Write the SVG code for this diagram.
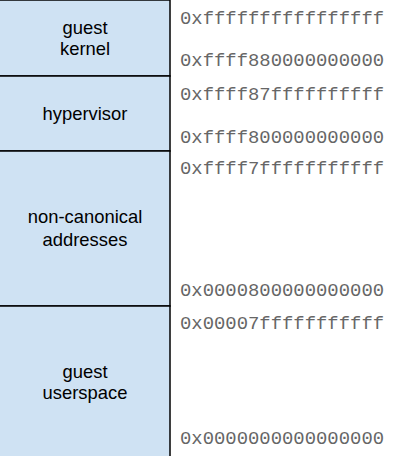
<svg xmlns="http://www.w3.org/2000/svg" width="406" height="456" viewBox="0 0 406 456">
<style>
.box{fill:#cfe2f3;stroke:#000;stroke-width:1.5}
.lbl{font-family:"Liberation Sans",Arial,sans-serif;font-size:18.4px;fill:#000;text-anchor:middle}
.addr{font-family:"Liberation Mono","Courier New",monospace;font-size:18.9px;fill:#666}
</style>
<rect width="406" height="456" fill="#fff"/>
<g id="guest-kernel"><rect class="box" x="-2" y="0" width="172" height="76"/><text class="lbl" x="85" y="34">guest</text><text class="lbl" x="85" y="55">kernel</text></g>
<g id="hypervisor"><rect class="box" x="-2" y="76" width="172" height="75"/><text class="lbl" x="85" y="120">hypervisor</text></g>
<g id="non-canonical"><rect class="box" x="-2" y="151" width="172" height="155"/><text class="lbl" x="85" y="223">non-canonical</text><text class="lbl" x="85" y="246">addresses</text></g>
<g id="guest-userspace"><rect class="box" x="-2" y="306" width="172" height="155"/><text class="lbl" x="85" y="378">guest</text><text class="lbl" x="85" y="399">userspace</text></g>
<g id="addresses">
<text class="addr" x="180" y="24">0xffffffffffffffff</text>
<text class="addr" x="180" y="66">0xffff880000000000</text>
<text class="addr" x="180" y="100">0xffff87ffffffffff</text>
<text class="addr" x="180" y="143">0xffff800000000000</text>
<text class="addr" x="180" y="174">0xffff7fffffffffff</text>
<text class="addr" x="180" y="296">0x0000800000000000</text>
<text class="addr" x="180" y="329">0x00007fffffffffff</text>
<text class="addr" x="180" y="444">0x0000000000000000</text>
</g>
<g id="connectors"></g>
</svg>
